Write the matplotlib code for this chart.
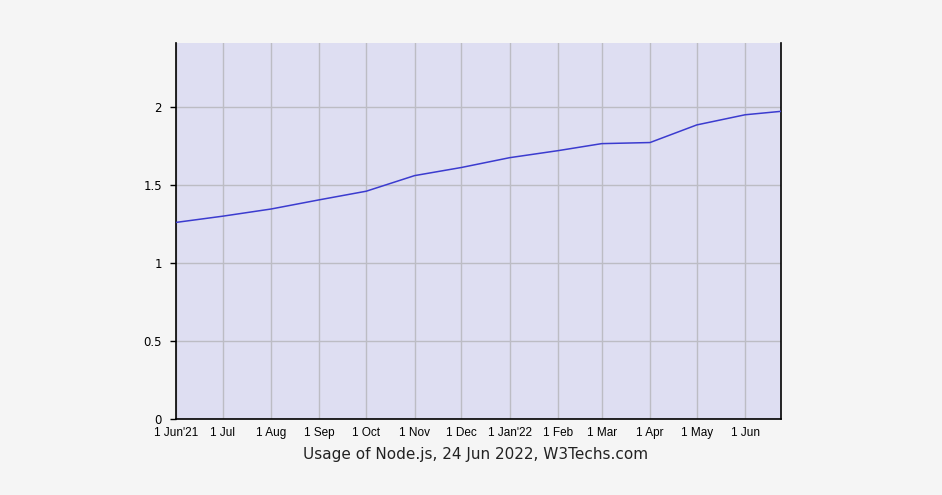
import datetime as dt
import matplotlib
matplotlib.use("Agg")
from matplotlib import pyplot as plt

dates = ["2021-06-01", "2021-07-01", "2021-08-01", "2021-09-01", "2021-10-01",
         "2021-11-01", "2021-12-01", "2022-01-01", "2022-02-01", "2022-03-01",
         "2022-04-01", "2022-05-01", "2022-06-01", "2022-06-24"]
usage = [1.26, 1.30, 1.346, 1.405, 1.46, 1.56, 1.612, 1.675, 1.72, 1.765,
         1.772, 1.885, 1.95, 1.972]
tick_labels = ["1 Jun'21", "1 Jul", "1 Aug", "1 Sep", "1 Oct", "1 Nov", "1 Dec",
               "1 Jan'22", "1 Feb", "1 Mar", "1 Apr", "1 May", "1 Jun"]
y_ticks = [0, 0.5, 1, 1.5, 2]
y_labels = ["0", "0.5", "1", "1.5", "2"]
title = "Usage of Node.js, 24 Jun 2022, W3Techs.com"

x = [dt.datetime.strptime(d, "%Y-%m-%d") for d in dates]

fig = plt.figure(figsize=(9.42, 4.95), dpi=100)
fig.patch.set_facecolor("#f5f5f5")
ax = fig.add_axes([176 / 942, 76 / 495, 605 / 942, 376 / 495])
ax.set_facecolor("#dedef2")

ax.plot(x, usage, color="#3b3bcf", linewidth=1.1, zorder=3)

ax.set_xlim(x[0], x[-1])
ax.set_ylim(0, 2.41)
ax.set_xticks(x[:-1])
ax.set_xticklabels(tick_labels, fontsize=8.5, family="Liberation Sans")
ax.set_yticks(y_ticks)
ax.set_yticklabels(y_labels, fontsize=8.5, family="DejaVu Sans")
ax.tick_params(axis="x", length=0, pad=6, colors="#000000")
ax.tick_params(axis="y", length=4, width=1, direction="out", pad=6)

ax.grid(True, color="#bcbcc4", linewidth=1, zorder=1)
ax.set_axisbelow(True)

for side in ["left", "right", "bottom"]:
    ax.spines[side].set_color("#000000")
    ax.spines[side].set_linewidth(1.2)
ax.spines["top"].set_visible(False)

fig.text(476 / 942, 1 - 454 / 495, title, ha="center", va="center",
         fontsize=11, family="DejaVu Sans", color="#222222")

fig.savefig("out.png", dpi=100, facecolor=fig.get_facecolor())
